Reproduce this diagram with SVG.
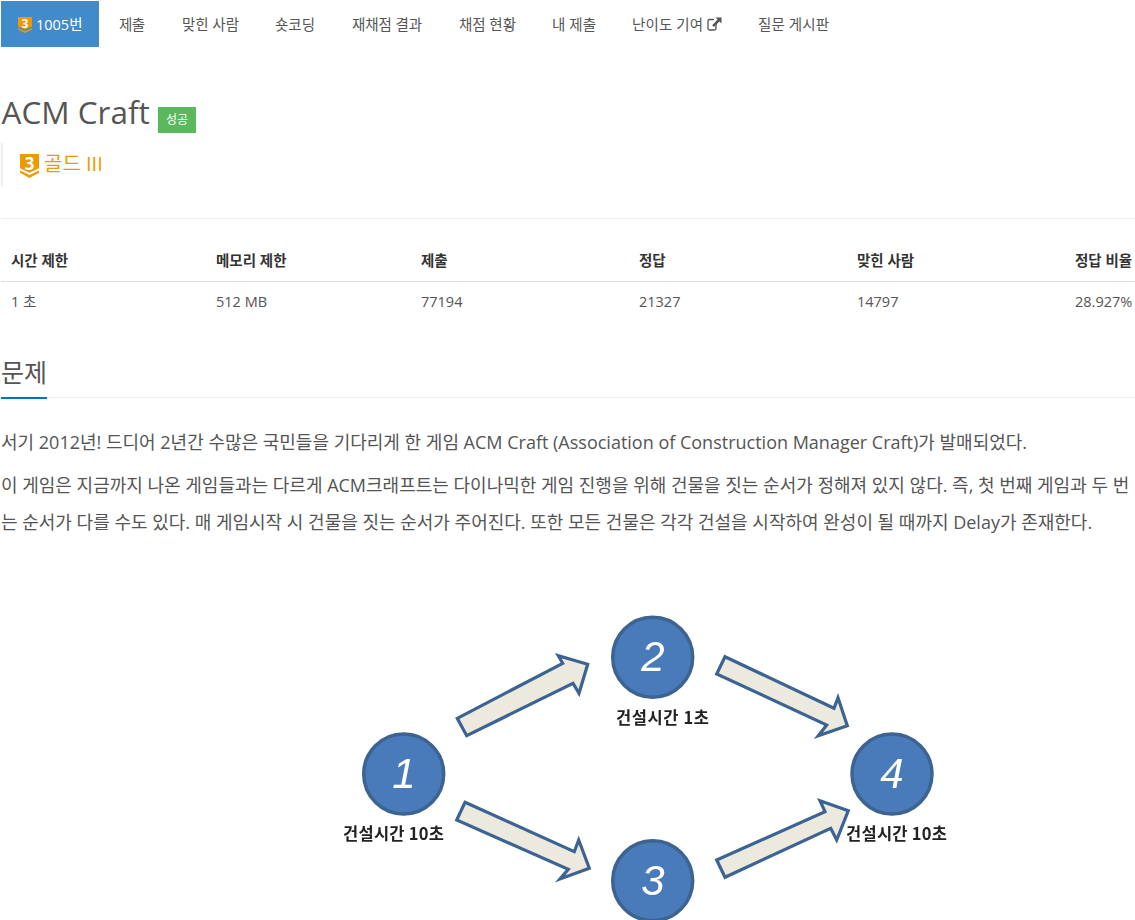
<svg xmlns="http://www.w3.org/2000/svg" width="1135" height="920" viewBox="0 0 1135 920">
<style>
text{font-family:"Open Sans","Noto Sans CJK KR",sans-serif;fill:#555}
.nav{font-size:14.5px}
.th{font-size:14.5px;font-weight:700;fill:#333}
.td{font-size:14.5px;fill:#555}
.p{font-size:18px;fill:#555}
.cap{font-size:16.5px;font-weight:700;fill:#222;font-family:"Noto Sans CJK KR",sans-serif}
.n{fill:#4a7ab9;stroke:#3c6391;stroke-width:3.5}
.d{font-family:"Liberation Sans",sans-serif;font-style:italic;font-size:42px;fill:#fff;text-anchor:middle}
.a{fill:#ece9de;stroke:#3d6493;stroke-width:3.2;stroke-linejoin:miter}
.tier{fill:#ec9a00}
</style>
<defs>
<path id="tier" d="M0 0H14V9.5L7 12.5L0 9.5ZM0 11L7 14L14 11V12.5L7 16L0 12.5Z"/>
<filter id="soft" x="-5%" y="-5%" width="110%" height="110%"><feGaussianBlur stdDeviation="0.35"/></filter>
</defs>
<rect width="1135" height="920" fill="#fff"/>
<g id="nav">
<rect x="1" y="1" width="98" height="46" fill="#428bca"/>
<use href="#tier" x="18" y="17" class="tier"/>
<text x="25" y="28" font-size="12" font-weight="700" text-anchor="middle" style="fill:#fff">3</text>
<text x="36" y="30" class="nav" style="fill:#fff">1005번</text>
<text x="119" y="30" class="nav" textLength="26">제출</text>
<text x="182" y="30" class="nav" textLength="57">맞힌 사람</text>
<text x="275" y="30" class="nav" textLength="40">숏코딩</text>
<text x="352" y="30" class="nav" textLength="70">재채점 결과</text>
<text x="459" y="30" class="nav" textLength="57">채점 현황</text>
<text x="552" y="30" class="nav" textLength="44">내 제출</text>
<text x="632" y="30" class="nav" textLength="71">난이도 기여</text>
<path d="M716 23.5V28.5Q716 30 714.5 30H709.5Q708 30 708 28.5V21Q708 19.5 709.5 19.5H714" fill="none" stroke="#555" stroke-width="1.3"/>
<path d="M715.5 17.5H721.5V23.5L719.4 21.4L714 27L712.2 25.2L717.6 19.6Z" fill="#555"/>
<text x="758" y="30" class="nav" textLength="71">질문 게시판</text>
</g>
<g id="title">
<text x="1.5" y="124" font-size="31.5px" style="fill:#555">ACM Craft</text>
<rect x="158" y="107" width="38" height="26" fill="#5cb85c"/>
<text x="177" y="124" font-size="12" text-anchor="middle" style="fill:#fff">성공</text>
<rect x="1" y="143" width="2" height="43" fill="#eee"/>
<use href="#tier" transform="translate(20 154) scale(1.357 1.5)" class="tier"/>
<text x="29.5" y="169.5" font-size="17" font-weight="700" text-anchor="middle" style="fill:#fff">3</text>
<text x="44" y="171" font-size="20px" style="fill:#ec9a00">골드 III</text>
</g>
<rect x="1" y="218" width="1134" height="1" fill="#eee"/>
<g id="stats">
<text x="11" y="266" class="th">시간 제한</text>
<text x="216" y="266" class="th">메모리 제한</text>
<text x="421" y="266" class="th">제출</text>
<text x="639" y="266" class="th">정답</text>
<text x="857" y="266" class="th">맞힌 사람</text>
<text x="1075" y="266" class="th">정답 비율</text>
<rect x="1" y="281" width="1134" height="1" fill="#ddd"/>
<text x="11" y="307" class="td">1 초</text>
<text x="216" y="307" class="td">512 MB</text>
<text x="421" y="307" class="td">77194</text>
<text x="639" y="307" class="td">21327</text>
<text x="857" y="307" class="td">14797</text>
<text x="1075" y="307" class="td">28.927%</text>
</g>
<g id="problem">
<text x="1" y="382" font-size="25px" style="fill:#555">문제</text>
<rect x="1" y="397" width="1134" height="1" fill="#eee"/>
<rect x="1" y="397" width="46" height="2" fill="#0076c0"/>
<text x="1" y="448.5" class="p">서기 2012년! 드디어 2년간 수많은 국민들을 기다리게 한 게임 ACM Craft (Association of Construction Manager Craft)가 발매되었다.</text>
<text x="1" y="491.5" class="p">이 게임은 지금까지 나온 게임들과는 다르게 ACM크래프트는 다이나믹한 게임 진행을 위해 건물을 짓는 순서가 정해져 있지 않다. 즉, 첫 번째 게임과 두 번</text>
<text x="1" y="528.5" class="p">는 순서가 다를 수도 있다. 매 게임시작 시 건물을 짓는 순서가 주어진다. 또한 모든 건물은 각각 건설을 시작하여 완성이 될 때까지 Delay가 존재한다.</text>
</g>
<g id="connectors" filter="url(#soft)">
<path class="a" d="M457.3 718.3L562.7 663.3L558.3 655.7L587.7 664.3L579 693.3L573 683.3L466.7 735.7Z"/>
<path class="a" d="M465 802.3L574.3 851.7L578.7 840L589.3 868.3L560 879L568.3 869.3L456.7 820Z"/>
<path class="a" d="M725 656.7L834 708.3L838 697.7L847.3 725.7L818.3 735.7L826.7 725L716.7 674Z"/>
<path class="a" d="M716.7 860L825 811.7L820 800.7L848.3 810.7L836.7 840L830.7 828.3L725 877.3Z"/>
</g>
<g id="node1" filter="url(#soft)"><circle class="n" cx="403.7" cy="774" r="40"/><text class="d" x="404" y="788">1</text><text class="cap" x="343" y="840" textLength="101">건설시간 10초</text></g>
<g id="node2" filter="url(#soft)"><circle class="n" cx="652.7" cy="657.3" r="40"/><text class="d" x="653" y="671">2</text><text class="cap" x="616" y="724" textLength="93">건설시간 1초</text></g>
<g id="node3" filter="url(#soft)"><circle class="n" cx="652.7" cy="880.7" r="40"/><text class="d" x="653" y="895">3</text></g>
<g id="node4" filter="url(#soft)"><circle class="n" cx="892" cy="774" r="40"/><text class="d" x="892" y="788">4</text><text class="cap" x="846" y="840" textLength="101">건설시간 10초</text></g>
</svg>
